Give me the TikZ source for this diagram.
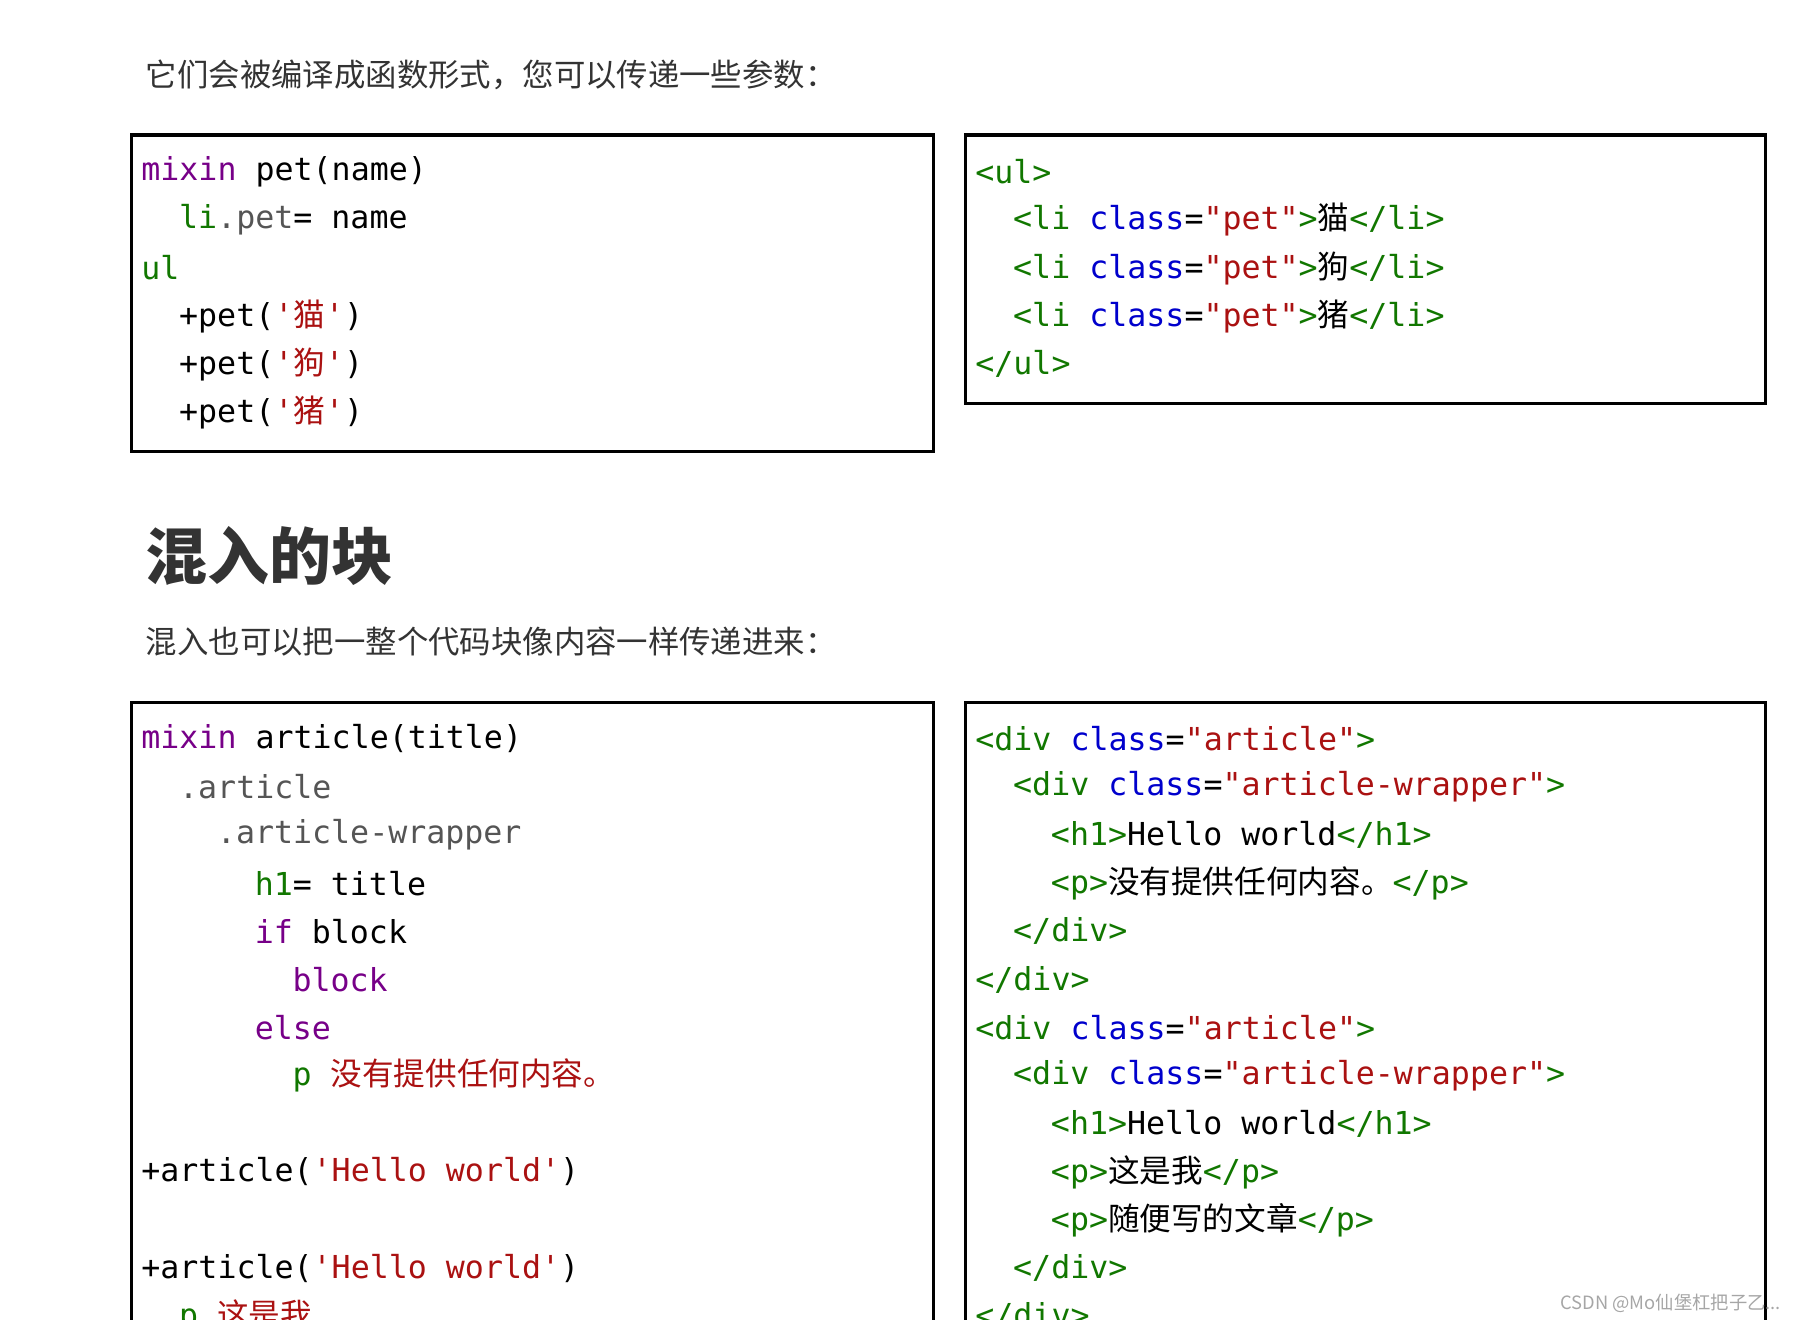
\documentclass[tikz,border=0pt]{standalone}
\usepackage{fontspec}
\newfontfamily\cjk{Noto Sans CJK SC}
\newfontfamily\mono{DejaVu Sans Mono}
\definecolor{kw}{HTML}{770088}
\definecolor{tg}{HTML}{117700}
\definecolor{gy}{HTML}{555555}
\definecolor{st}{HTML}{AA1111}
\definecolor{at}{HTML}{0000CC}
\definecolor{tx}{HTML}{333333}
\newcommand\zh[1]{{\cjk #1}}
\newcommand\cK[1]{\textcolor{kw}{#1}}
\newcommand\cG[1]{\textcolor{tg}{#1}}
\newcommand\cY[1]{\textcolor{gy}{#1}}
\newcommand\cS[1]{\textcolor{st}{#1}}
\newcommand\cA[1]{\textcolor{at}{#1}}
\newcommand\cl[3]{\node[codeline] at (#1,#2) {#3};}
\begin{document}
\begin{tikzpicture}[x=0.5pt,y=-0.5pt,
  codeline/.style={anchor=west,inner sep=0pt,font=\mono\fontsize{13.8}{16}\selectfont},
  codebox/.style={draw=black,line width=1.5pt},
  para/.style={anchor=west,inner sep=0pt,text=tx,font=\cjk\fontsize{13.7}{16}\selectfont}]
\useasboundingbox (0,0) rectangle (1566,1152);
\node[para] (p1) at (127,65) {它们会被编译成函数形式，您可以传递一些参数：};
\draw[codebox] (115,118) rectangle (815,394);
\draw[codebox] (843,118) rectangle (1541,352);
\cl{123}{150}{\cK{mixin} pet(name)}
\cl{156}{192}{\cG{li}\cY{.pet}= name}
\cl{123}{234}{\cG{ul}}
\cl{156}{276}{+pet(\cS{'\zh{猫}'})}
\cl{156}{318}{+pet(\cS{'\zh{狗}'})}
\cl{156}{360}{+pet(\cS{'\zh{猪}'})}
\cl{851}{150}{\cG{<ul>}}
\cl{884}{192}{\cG{<li} \cA{class}=\cS{"pet"}\cG{>}\zh{猫}\cG{</li>}}
\cl{884}{234}{\cG{<li} \cA{class}=\cS{"pet"}\cG{>}\zh{狗}\cG{</li>}}
\cl{884}{276}{\cG{<li} \cA{class}=\cS{"pet"}\cG{>}\zh{猪}\cG{</li>}}
\cl{851}{318}{\cG{</ul>}}
\node[anchor=west,inner sep=0pt,text=tx,font=\cjk\bfseries\fontsize{27}{30}\selectfont] (h) at (127,485) {混入的块};
\node[para] (p2) at (127,560) {混入也可以把一整个代码块像内容一样传递进来：};
\draw[codebox] (115,1200) -- (115,613) -- (815,613) -- (815,1200);
\draw[codebox] (843,1200) -- (843,613) -- (1541,613) -- (1541,1200);
\cl{123}{645}{\cK{mixin} article(title)}
\cl{156}{687}{\cY{.article}}
\cl{189}{729}{\cY{.article-wrapper}}
\cl{222}{771}{\cG{h1}= title}
\cl{222}{813}{\cK{if} block}
\cl{255}{855}{\cK{block}}
\cl{222}{897}{\cK{else}}
\cl{255}{939}{\cG{p} \cS{\zh{没有提供任何内容。}}}
\cl{123}{1023}{+article(\cS{'Hello world'})}
\cl{123}{1107}{+article(\cS{'Hello world'})}
\cl{156}{1149}{\cG{p} \cS{\zh{这是我}}}
\cl{851}{645}{\cG{<div} \cA{class}=\cS{"article"}\cG{>}}
\cl{884}{687}{\cG{<div} \cA{class}=\cS{"article-wrapper"}\cG{>}}
\cl{917}{729}{\cG{<h1>}Hello world\cG{</h1>}}
\cl{917}{771}{\cG{<p>}\zh{没有提供任何内容。}\cG{</p>}}
\cl{884}{813}{\cG{</div>}}
\cl{851}{855}{\cG{</div>}}
\cl{851}{897}{\cG{<div} \cA{class}=\cS{"article"}\cG{>}}
\cl{884}{939}{\cG{<div} \cA{class}=\cS{"article-wrapper"}\cG{>}}
\cl{917}{981}{\cG{<h1>}Hello world\cG{</h1>}}
\cl{917}{1023}{\cG{<p>}\zh{这是我}\cG{</p>}}
\cl{917}{1065}{\cG{<p>}\zh{随便写的文章}\cG{</p>}}
\cl{884}{1107}{\cG{</div>}}
\cl{851}{1149}{\cG{</div>}}
\node[anchor=east,inner sep=0pt,text=gray!70,font=\cjk\fontsize{8}{10}\selectfont] (wm) at (1555,1138) {CSDN @Mo仙堡杠把子乙...};
\end{tikzpicture}
\end{document}
